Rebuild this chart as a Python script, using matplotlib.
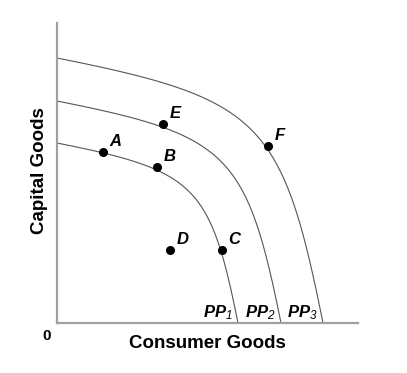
import numpy as np
import matplotlib
matplotlib.use("Agg")
import matplotlib.pyplot as plt

plt.rcParams['font.family'] = ['Liberation Sans', 'DejaVu Sans']
plt.rcParams['mathtext.fontset'] = 'custom'
plt.rcParams['mathtext.it'] = 'Liberation Sans:italic:bold'
plt.rcParams['mathtext.rm'] = 'Liberation Sans:italic'

# frontier intercepts (consumer goods, capital goods)
curve_names = ["1", "2", "3"]
x_intercepts = [181, 224, 266]
y_intercepts = [180, 222, 265]

# labelled points
point_labels = ["A", "B", "C", "D", "E", "F"]
point_x = [46, 100, 165, 113, 106, 211]
point_y = [171, 156, 73, 73, 199, 177]


def frontier(a, b, n=200):
    # symmetric cubic bezier bowing out from the origin
    k, s = 0.766, 0.153
    t = np.linspace(0, 1, n)
    p0, p1, p2, p3 = (0, 1), (k, 1 - s), (1 - s, k), (1, 0)
    bx = ((1 - t)**3 * p0[0] + 3 * (1 - t)**2 * t * p1[0]
          + 3 * (1 - t) * t**2 * p2[0] + t**3 * p3[0])
    by = ((1 - t)**3 * p0[1] + 3 * (1 - t)**2 * t * p1[1]
          + 3 * (1 - t) * t**2 * p2[1] + t**3 * p3[1])
    return a * bx, b * by


fig = plt.figure(figsize=(4.07, 3.73), dpi=100)
ax = fig.add_axes([57 / 407, 50 / 373, 301 / 407, 300 / 373])
ax.set_xlim(0, 301)
ax.set_ylim(0, 300)

for name, a, b in zip(curve_names, x_intercepts, y_intercepts):
    cx, cy = frontier(a, b)
    ax.plot(cx, cy, color="#555555", lw=0.8)
    ax.annotate(r"$PP_{" + name + "}$", xy=(a, 0), xytext=(-4, 0.5),
                textcoords="offset points", ha="right", va="bottom",
                fontsize=12)

ax.plot(point_x, point_y, "o", color="black", markersize=5.5)
for lab, px, py in zip(point_labels, point_x, point_y):
    ax.annotate(lab, xy=(px, py), xytext=(4.5, 2.5), textcoords="offset points",
                ha="left", va="bottom", fontsize=12, fontweight="bold",
                fontstyle="italic")

for side in ["top", "right"]:
    ax.spines[side].set_visible(False)
for side in ["left", "bottom"]:
    ax.spines[side].set_color("#a0a0a0")
    ax.spines[side].set_linewidth(1.6)
ax.set_xticks([])
ax.set_yticks([])

# axis titles placed by pixel position of the reference
fig.text(207 / 407, 1 - 343 / 373, "Consumer Goods", ha="center", va="center",
         fontsize=13.5, fontweight="bold")
fig.text(40 / 407, 1 - 171 / 373, "Capital Goods", ha="center", va="center",
         rotation=90, fontsize=13.5, fontweight="bold")
fig.text(47 / 407, 1 - 336 / 373, "0", ha="center", va="center", fontsize=11,
         fontweight="bold")

fig.savefig("out.png", dpi=100)
